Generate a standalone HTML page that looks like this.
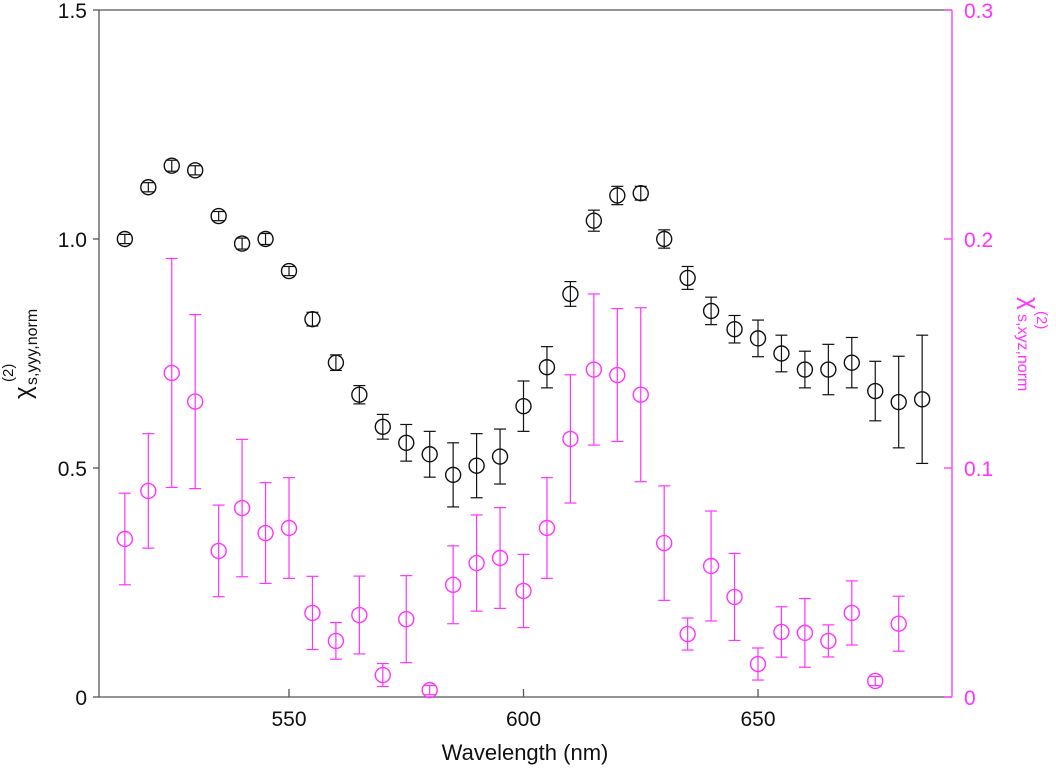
<!DOCTYPE html>
<html><head><meta charset="utf-8">
<style>
html,body{margin:0;padding:0;background:#fff;}
svg{display:block;font-family:"Liberation Sans",sans-serif;}
</style></head>
<body>
<svg id="chart" width="1056" height="771">
  <line x1="99" y1="10" x2="952" y2="10" stroke="#555" stroke-width="1.3"/>
  <line x1="99" y1="10" x2="99" y2="697" stroke="#555" stroke-width="1.3"/>
  <line x1="99" y1="697" x2="952" y2="697" stroke="#555" stroke-width="1.3"/>
  <line x1="952" y1="10" x2="952" y2="697" stroke="#ff33ff" stroke-width="1.3"/>
  <g id="ticks"></g>
  <g id="black"></g>
  <g id="mag"></g>
  <text x="525" y="760" font-size="22" text-anchor="middle" fill="#111">Wavelength (nm)</text>
  <g transform="translate(37,0) rotate(-90)">
    <text x="-399" y="-6" font-size="24" fill="#111">χ</text>
    <text x="-385" y="0" font-size="16" fill="#111">s,yyy,norm</text>
    <text x="-382" y="-24" font-size="15" fill="#111">(2)</text>
  </g>
  <g transform="translate(1018,0) rotate(90)">
    <text x="297" y="-4" font-size="24" fill="#ff33ff">χ</text>
    <text x="314" y="0" font-size="16" fill="#ff33ff">s,xyz,norm</text>
    <text x="311" y="-19" font-size="15" fill="#ff33ff">(2)</text>
  </g>
</svg>
<script>
const wavelengths=[515,520,525,530,535,540,545,550,555,560,565,570,575,580,585,590,595,600,605,610,615,620,625,630,635,640,645,650,655,660,665,670,675,680,685];
const yyyValues=[1.00,1.113,1.16,1.15,1.05,0.99,1.00,0.93,0.825,0.73,0.66,0.59,0.555,0.53,0.485,0.505,0.525,0.635,0.72,0.88,1.04,1.095,1.10,1.00,0.915,0.843,0.803,0.783,0.75,0.715,0.715,0.73,0.668,0.644,0.65];
const yyyErrors=[0.01,0.01,0.012,0.01,0.01,0.012,0.012,0.01,0.015,0.017,0.02,0.027,0.04,0.05,0.07,0.07,0.06,0.055,0.045,0.027,0.023,0.02,0.015,0.02,0.025,0.03,0.03,0.04,0.04,0.04,0.055,0.055,0.065,0.1,0.14];
const xyzWavelengths=[515,520,525,530,535,540,545,550,555,560,565,570,575,580,585,590,595,600,605,610,615,620,625,630,635,640,645,650,655,660,665,670,675,680];
const xyzValues=[0.069,0.09,0.1415,0.129,0.0638,0.0825,0.0716,0.0738,0.0367,0.0245,0.0358,0.0096,0.034,0.003,0.049,0.0585,0.0607,0.0463,0.0738,0.1127,0.143,0.1406,0.132,0.0672,0.0275,0.0572,0.0437,0.0144,0.0284,0.028,0.0245,0.0367,0.007,0.032];
const xyzErrors=[0.02,0.025,0.05,0.038,0.02,0.03,0.022,0.022,0.016,0.008,0.017,0.005,0.019,0.002,0.017,0.021,0.022,0.016,0.022,0.028,0.033,0.029,0.038,0.025,0.007,0.024,0.019,0.007,0.011,0.015,0.007,0.014,0.002,0.012];
const xTicks=[550,600,650];
const leftTicks=[0,0.5,1.0,1.5];
const leftTickLabels=["0","0.5","1.0","1.5"];
const rightTicks=[0,0.1,0.2,0.3];
const rightTickLabels=["0","0.1","0.2","0.3"];

const NS="http://www.w3.org/2000/svg";
const X=v=>289+(v-550)*4.69;
const YL=v=>697-v*458;
const YR=v=>697-v*2290;
function mk(tag,attrs,parent){const e=document.createElementNS(NS,tag);for(const k in attrs)e.setAttribute(k,attrs[k]);parent.appendChild(e);return e;}
const tg=document.getElementById('ticks');
xTicks.forEach(v=>{
  const l=mk('line',{x1:X(v),x2:X(v),y1:697,y2:689,stroke:'#555','stroke-width':1.3},tg);
  
  
  const t=mk('text',{x:X(v),y:726,'font-size':21,'text-anchor':'middle',fill:'#111'},tg);
  t.textContent=v;
  
  
});
leftTicks.forEach((v,i)=>{
  const l=mk('line',{x1:93,x2:99,y1:YL(v),y2:YL(v),stroke:'#555','stroke-width':1.3},tg);
  
  
  const t=mk('text',{x:87,y:YL(v)+8,'font-size':21,'text-anchor':'end',fill:'#111'},tg);
  t.textContent=leftTickLabels[i];
  
  
});
rightTicks.forEach((v,i)=>{
  const l=mk('line',{x1:944,x2:952,y1:YR(v),y2:YR(v),stroke:'#ff33ff','stroke-width':1.3},tg);
  
  
  const t=mk('text',{x:964,y:YR(v)+8,'font-size':21,fill:'#ff33ff'},tg);
  t.textContent=rightTickLabels[i];
  
  
});
function series(g,xs,vals,errs,Y,col,name){
  xs.forEach((w,i)=>{
    const x=X(w),y=Y(vals[i]),y1=Y(vals[i]+errs[i]),y2=Y(vals[i]-errs[i]);
    const grp=mk('g',{},g);
    
    
    mk('line',{x1:x,x2:x,y1:y1,y2:y2,stroke:col,'stroke-width':1.2},grp);
    mk('line',{x1:x-6,x2:x+6,y1:y1,y2:y1,stroke:col,'stroke-width':1.2},grp);
    mk('line',{x1:x-6,x2:x+6,y1:y2,y2:y2,stroke:col,'stroke-width':1.2},grp);
    mk('circle',{cx:x,cy:y,r:7.5,fill:'none',stroke:col,'stroke-width':1.4},grp);
  });
}
series(document.getElementById('black'),wavelengths,yyyValues,yyyErrors,YL,'#111','yyy');
series(document.getElementById('mag'),xyzWavelengths,xyzValues,xyzErrors,YR,'#ff33ff','xyz');
</script>
</body></html>
